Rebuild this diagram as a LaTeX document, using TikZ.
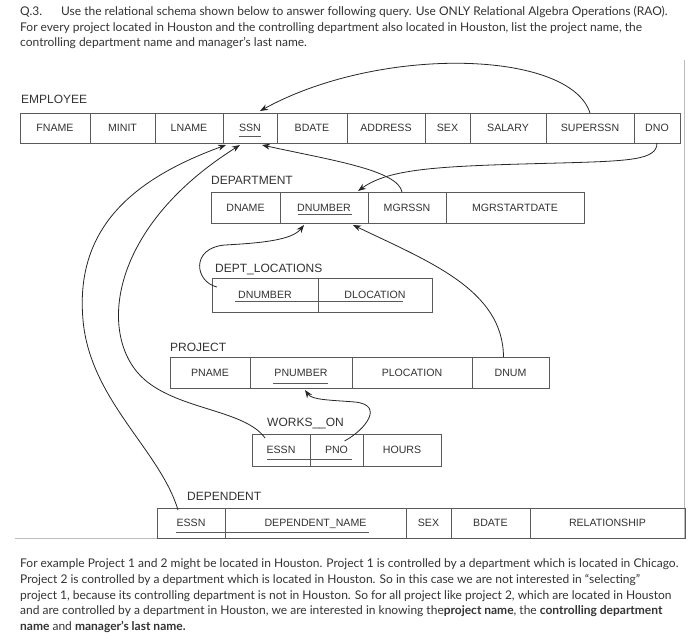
\documentclass[tikz,border=0pt]{standalone}
\usepackage{fontspec}
\setmainfont{Lato}
\newfontfamily\schemafont{Liberation Sans}
\usetikzlibrary{arrows.meta}
\definecolor{txt}{HTML}{333333}
\definecolor{bord}{HTML}{5A5A5A}
\definecolor{framegray}{HTML}{BBBBBB}
\newcommand\mkcell[6]{\node[cellbox, minimum width={(#3-#2)*1pt}, minimum height={(#5-#4)*1pt}] (#1) at ({(#2+#3)/2},{(#4+#5)/2}) {#6};}
\begin{document}
\begin{tikzpicture}[x=1pt,y=-1pt,
  cellbox/.style={draw=bord, line width=0.9pt, inner sep=0pt, outer sep=0pt,
    font=\schemafont\fontsize{10.6}{11}\selectfont, text=txt, text height=7.6pt, text depth=0pt},
  tablelabel/.style={anchor=west, inner sep=0pt, font=\schemafont\fontsize{12}{12}\selectfont,
    text=txt, text height=8.6pt, text depth=0pt},
  para/.style={anchor=base west, inner sep=0pt, font=\fontsize{12}{14}\selectfont, text=txt},
  keyline/.style={draw=bord, line width=0.8pt},
  fk/.style={draw=black!85, line width=0.8pt, -{Stealth[length=8pt,width=6pt]}},
]
\useasboundingbox (0,0) rectangle (691,640);
\fill[white] (0,0) rectangle (691,640);

% header text
\node[para] (hdrA) at (20,15) {Q.3.\hspace{19pt}Use the relational schema shown below to answer following query. Use ONLY Relational Algebra Operations (RAO).};
\node[para] (hdrB) at (20,31) {For every project located in Houston and the controlling department also located in Houston, list the project name, the};
\node[para] (hdrC) at (20,46) {controlling department name and manager's last name.};

% frame of the figure
\draw[framegray, line width=0.8pt] (684,60) -- (684,538) -- (15,538);

% EMPLOYEE
\node[tablelabel] (lemp) at (21,99) {EMPLOYEE};
\mkcell{fname}{20}{90}{113}{143}{FNAME}
\mkcell{minit}{90}{155}{113}{143}{MINIT}
\mkcell{lname}{155}{223}{113}{143}{LNAME}
\mkcell{ssn}{223}{277}{113}{143}{SSN}
\mkcell{bdate}{277}{347}{113}{143}{BDATE}
\mkcell{address}{347}{425}{113}{143}{ADDRESS}
\mkcell{sex}{425}{470}{113}{143}{SEX}
\mkcell{salary}{470}{546}{113}{143}{SALARY}
\mkcell{superssn}{546}{634}{113}{143}{SUPERSSN}
\mkcell{dno}{634}{680}{113}{143}{DNO}
\draw[keyline] (239,136) -- (261,136);

% DEPARTMENT
\node[tablelabel] (ldept) at (211,180) {DEPARTMENT};
\mkcell{dname}{211}{280}{192}{223}{DNAME}
\mkcell{dnumber}{280}{368}{192}{223}{DNUMBER}
\mkcell{mgrssn}{368}{446}{192}{223}{MGRSSN}
\mkcell{mgrstart}{446}{584}{192}{223}{MGRSTARTDATE}
\draw[keyline] (298,214) -- (352,214);

% DEPT_LOCATIONS
\node[tablelabel] (ldloc) at (215,268) {DEPT\_LOCATIONS};
\mkcell{dldnumber}{212}{318}{278}{312}{DNUMBER}
\mkcell{dlocation}{318}{432}{278}{312}{DLOCATION}
\draw[keyline] (235,301) -- (403,301);

% PROJECT
\node[tablelabel] (lproj) at (170,347) {PROJECT};
\mkcell{pname}{170}{250}{357}{388}{PNAME}
\mkcell{pnumber}{250}{352}{357}{388}{PNUMBER}
\mkcell{plocation}{352}{472}{357}{388}{PLOCATION}
\mkcell{dnum}{472}{549}{357}{388}{DNUM}
\draw[keyline] (273,383) -- (328,383);

% WORKS_ON
\node[tablelabel] (lworks) at (267,422) {WORKS\_\_ON};
\mkcell{wessn}{252}{310}{434}{466}{ESSN}
\mkcell{pno}{310}{363}{434}{466}{PNO}
\mkcell{hours}{363}{441}{434}{466}{HOURS}
\draw[keyline] (267,459) -- (352,459);

% DEPENDENT
\node[tablelabel] (ldep) at (187,496) {DEPENDENT};
\mkcell{dessn}{157}{225}{508}{538}{ESSN}
\mkcell{depname}{225}{406}{508}{538}{DEPENDENT\_NAME}
\mkcell{dsex}{406}{451}{508}{538}{SEX}
\mkcell{dbdate}{451}{530}{508}{538}{BDATE}
\mkcell{relationship}{530}{685}{508}{538}{RELATIONSHIP}
\draw[keyline] (176,532) -- (369,532);

% foreign keys
\draw[fk] (superssn.north) .. controls (570,50) and (380,45) .. ([xshift=10pt,yshift=2pt]ssn.north);
\draw[fk] (dno.south) .. controls (657,160) and (630,161) .. (560,163) .. controls (440,166) and (390,168) .. ([xshift=-10pt,yshift=1pt]dnumber.north east);
\draw[fk] ([xshift=-5pt]mgrssn.north) .. controls (398,170) and (330,160) .. ([xshift=12pt,yshift=-2pt]ssn.south);
\draw[fk] ([xshift=5pt,yshift=-9pt]dldnumber.north west) .. controls (195,282) and (190,248) .. (225,245) .. controls (262,243) and (292,240) .. ([xshift=-20pt,yshift=-2pt]dnumber.south);
\draw[fk] ([xshift=-7pt]dnum.north) .. controls (503,290) and (430,262) .. ([xshift=-15pt,yshift=-2pt]dnumber.south east);
\draw[fk] ([xshift=8pt,yshift=-7pt]pno.north) .. controls (365,430) and (385,405) .. (355,402) .. controls (330,400) and (312,400) .. ([xshift=4pt,yshift=-2pt]pnumber.south);
\draw[fk] ([xshift=-16pt,yshift=-4pt]wessn.north) .. controls (245,410) and (180,410) .. (145,380) .. controls (98,340) and (105,230) .. ([xshift=-10pt,yshift=-2pt]ssn.south);
\draw[fk] ([xshift=-13pt,yshift=-2pt]dessn.north) .. controls (160,450) and (90,400) .. (83,320) .. controls (75,230) and (130,180) .. ([xshift=3pt,yshift=-2pt]ssn.south west);

% closing paragraph
\node[para] (parA) at (20,567) {For example Project 1 and 2 might be located in Houston. Project 1 is controlled by a department which is located in Chicago.};
\node[para] (parB) at (20,583) {Project 2 is controlled by a department which is located in Houston. So in this case we are not interested in “selecting”};
\node[para] (parC) at (20,599) {project 1, because its controlling department is not in Houston. So for all project like project 2, which are located in Houston};
\node[para] (parD) at (20,614) {and are controlled by a department in Houston, we are interested in knowing the\textbf{project name}, the \textbf{controlling department}};
\node[para] (parE) at (20,630) {\textbf{name} and \textbf{manager’s last name.}};
\end{tikzpicture}
\end{document}
